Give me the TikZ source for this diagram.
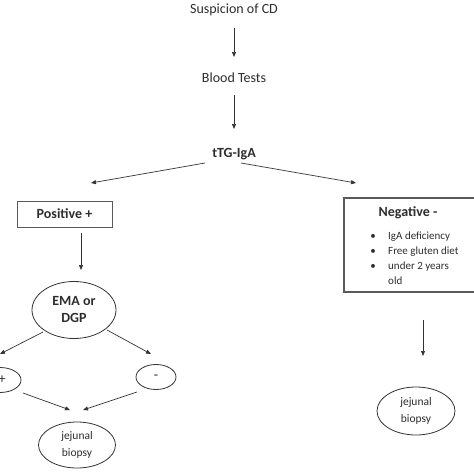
\documentclass[tikz,border=0pt]{standalone}
\usepackage{fontspec}
\setmainfont{Carlito}
\usetikzlibrary{arrows.meta,shapes.geometric}
\definecolor{txt}{HTML}{2E2E2E}
\definecolor{ln}{HTML}{333333}
\definecolor{boxln}{HTML}{5A5A5A}
\begin{document}
\begin{tikzpicture}[x=1pt,y=-1pt,
  arr/.style={draw=ln, line width=0.7pt, -{Triangle[length=5pt,width=4pt]}},
  lbl/.style={text=txt, inner sep=0pt, font=\fontsize{14}{17}\selectfont},
  blbl/.style={text=txt, inner sep=0pt, font=\fontsize{14}{17}\selectfont\bfseries},
  sml/.style={text=txt, inner sep=0pt, font=\fontsize{11}{15}\selectfont},
  oval/.style={ellipse, draw=ln, line width=0.8pt, inner sep=0pt},
  jej/.style={oval, text=txt, align=center, font=\fontsize{11.5}{17}\selectfont}]
\useasboundingbox (0,0) rectangle (474,474);
\clip (0,0) rectangle (474,474);
\fill[white] (0,0) rectangle (474,474);

% main chain
\node[lbl] (susp) at (234,10) {Suspicion of CD};
\node[lbl] (blood) at (234,78) {Blood Tests};
\node[blbl] (ttg) at (234,154) {tTG-IgA};

% boxes
\node[draw=boxln, line width=1pt, minimum width=95pt, minimum height=26pt, blbl] (pos) at (64.5,214) {Positive +};
\node[draw=boxln, line width=1.2pt, minimum width=140pt, minimum height=94pt, inner sep=0pt] (neg) at (414,245) {};
\node[blbl] (negt) at (408,213) {Negative -};
\node[sml] (b1) at (373,237) {•};
\node[sml] (b2) at (373,252) {•};
\node[sml] (b3) at (373,267) {•};
\node[sml, anchor=west] (t1) at (388,237) {IgA deficiency};
\node[sml, anchor=west] (t2) at (388,252) {Free gluten diet};
\node[sml, anchor=west] (t3) at (388,267) {under 2 years};
\node[sml, anchor=west] (t4) at (388,281) {old};

% ellipses
\node[oval, minimum width=84pt, minimum height=57pt, blbl, align=center] (ema) at (74,310) {EMA or\\DGP};
\node[oval, minimum width=42pt, minimum height=25pt, lbl] (plus) at (0,380) {\hspace*{4pt}+};
\node[oval, minimum width=40pt, minimum height=25pt, lbl] (minus) at (156,377) {-};
\node[jej, minimum width=77pt, minimum height=46pt] (jej1) at (77,445) {jejunal\\biopsy};
\node[jej, minimum width=78pt, minimum height=48pt] (jej2) at (416,411) {jejunal\\biopsy};

% arrow end points
\coordinate (tl0) at (205,163);
\coordinate (tl1) at (91,183);
\coordinate (tr0) at (241,163);
\coordinate (tr1) at (356,183);
\coordinate (p0) at (81,233);
\coordinate (p1) at (81,270);
\coordinate (el0) at (43,332);
\coordinate (el1) at (0,354);
\coordinate (er0) at (107,330);
\coordinate (er1) at (151,354);
\coordinate (pl0) at (23,393);
\coordinate (pl1) at (70,410);
\coordinate (mi0) at (137,392);
\coordinate (mi1) at (83,410);
\coordinate (n0) at (423,320);
\coordinate (n1) at (423,356);

% arrows
\draw[arr, shorten <=18pt, shorten >=21pt] (susp.center) -- (blood.center);
\draw[arr, shorten <=17pt, shorten >=25pt] (blood.center) -- (ttg.center);
\draw[arr] (tl0) -- (tl1);
\draw[arr] (tr0) -- (tr1);
\draw[arr] (p0) -- (p1);
\draw[arr] (el0) -- (el1);
\draw[arr] (er0) -- (er1);
\draw[arr] (pl0) -- (pl1);
\draw[arr] (mi0) -- (mi1);
\draw[arr] (n0) -- (n1);
\end{tikzpicture}
\end{document}
